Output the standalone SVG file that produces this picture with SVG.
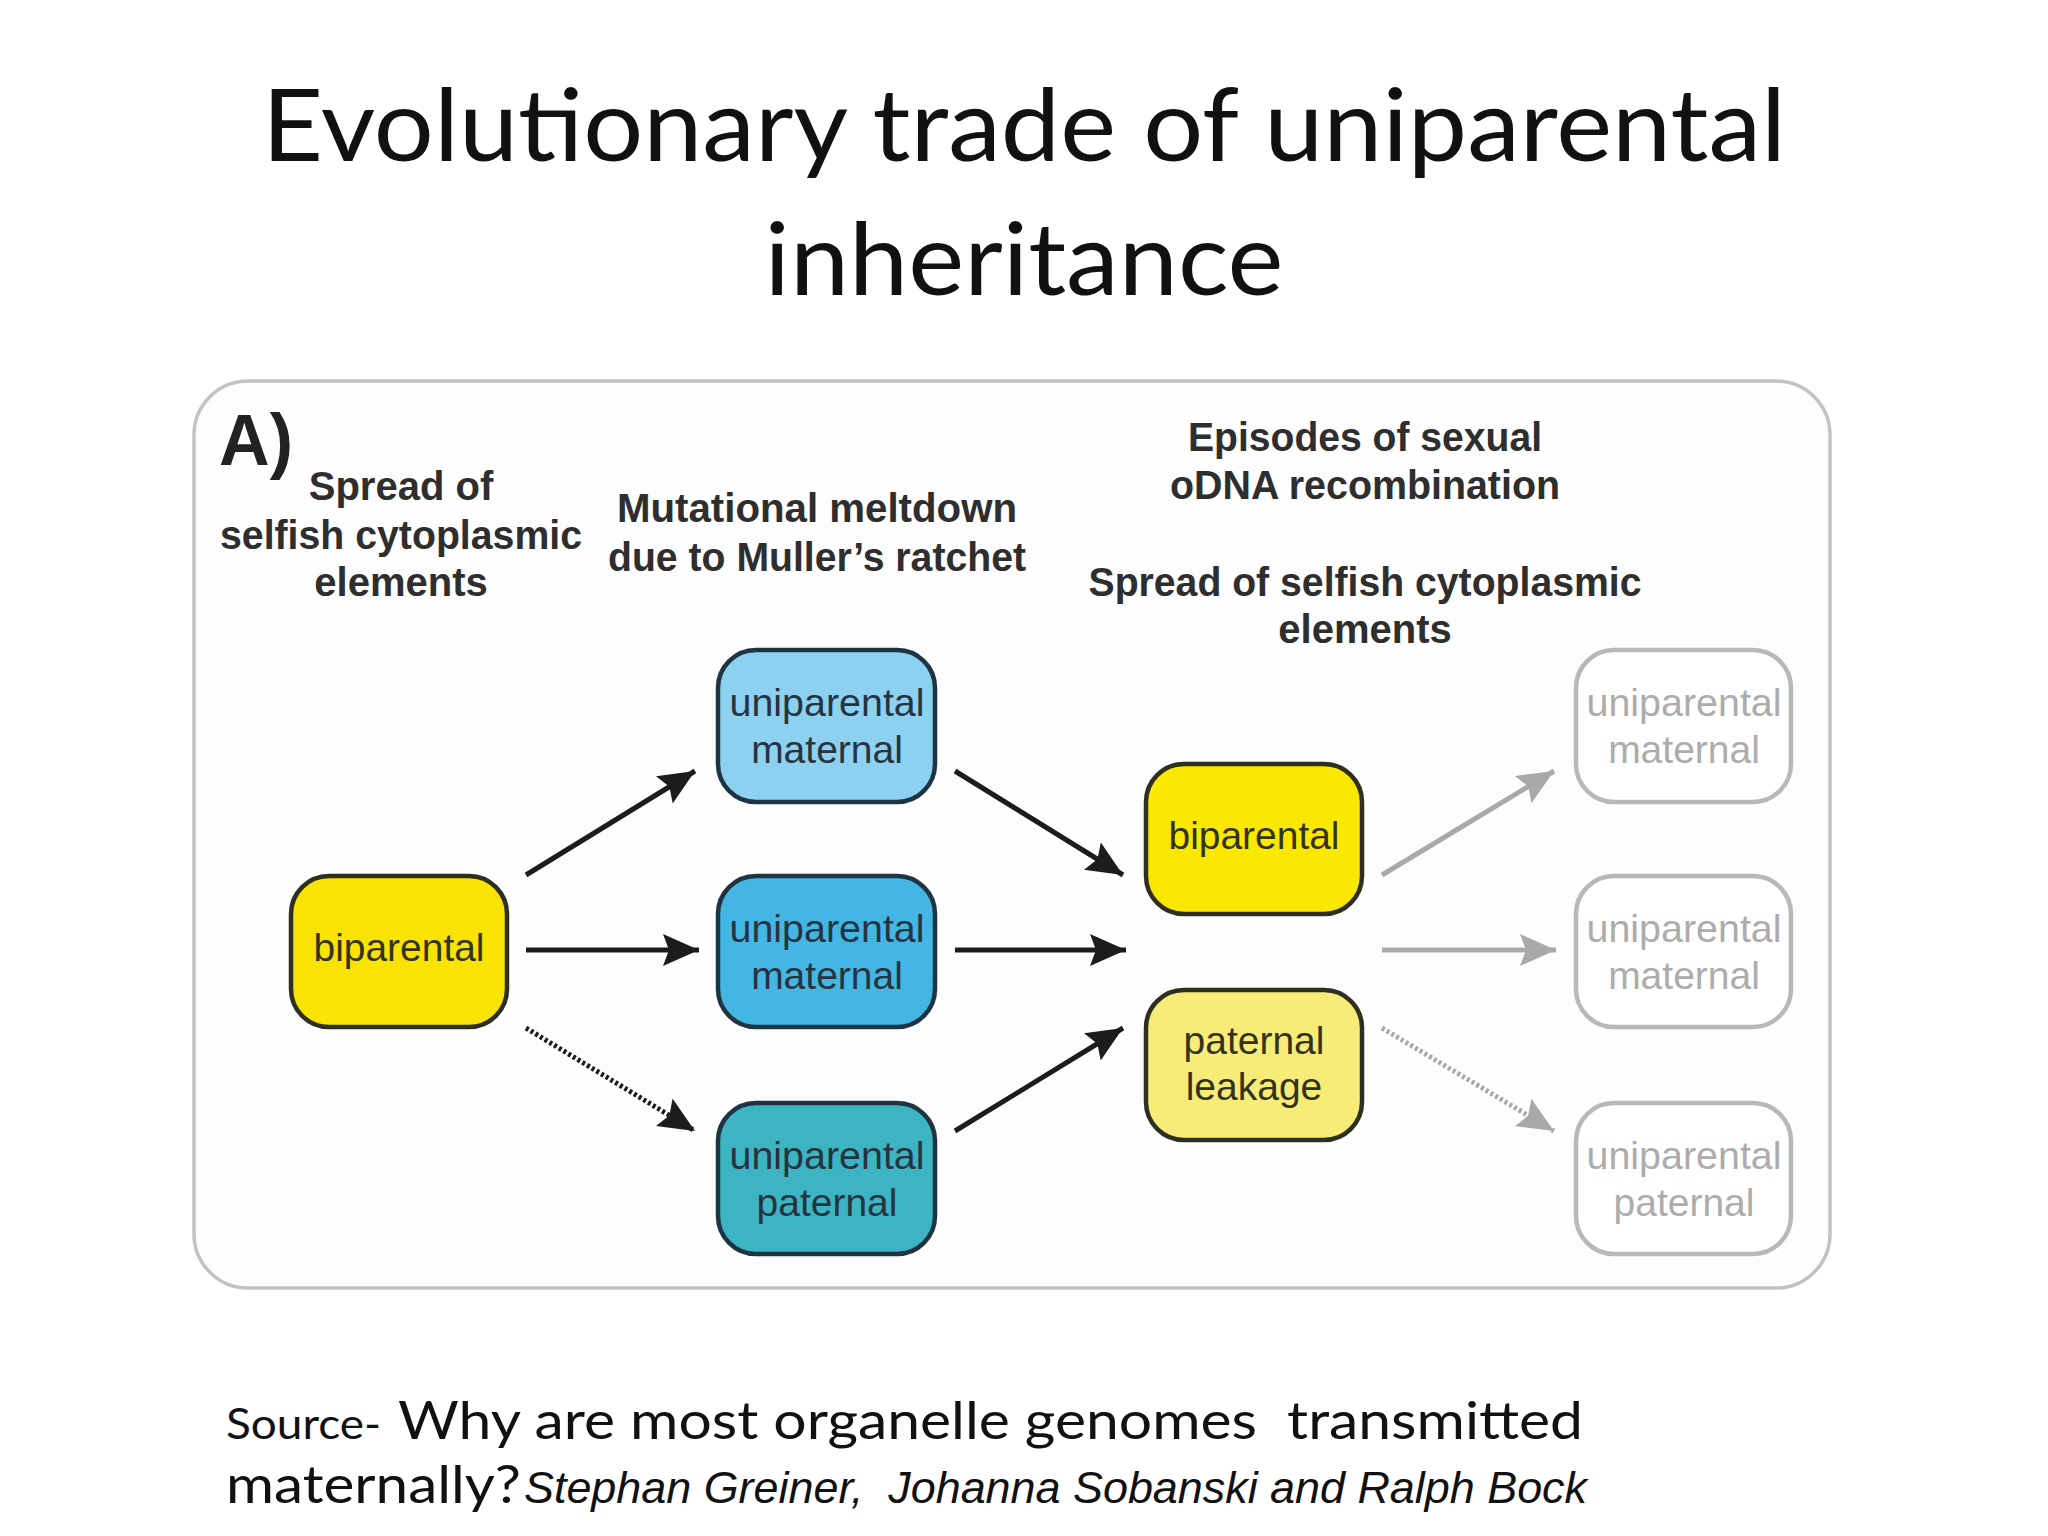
<svg xmlns="http://www.w3.org/2000/svg" width="2048" height="1536" viewBox="0 0 2048 1536">
<style>
.title{font-family:Lato,"Open Sans",sans-serif;font-size:100px;fill:#111;text-anchor:middle}
.hdr{font-family:"Liberation Sans",Arial,sans-serif;font-weight:bold;font-size:40px;fill:#2e2e2e;text-anchor:middle}
.lbl{font-family:"Liberation Sans",Arial,sans-serif;font-size:39px;text-anchor:middle}
.node{stroke-width:4.5}
.dark{fill:#263340}
.ghost{fill:#ffffff;stroke:#b8b8b8}
.ghostt{fill:#acacac}
.blk{stroke:#1c1c1c;stroke-width:5;fill:none}
.gry{stroke:#a9a9a9;stroke-width:5;fill:none}
.dot{stroke-dasharray:3 2.5}
.src{font-family:Lato,"Open Sans",sans-serif;fill:#111}
.ital{font-family:"Liberation Sans",Arial,sans-serif;font-style:italic;fill:#111}
</style>
<defs>
<marker id="ab" markerUnits="userSpaceOnUse" markerWidth="42" markerHeight="36" refX="36" refY="16" orient="auto">
<path d="M0,0 L36,16 L0,32 L6,16 z" fill="#1c1c1c"/>
</marker>
<marker id="ag" markerUnits="userSpaceOnUse" markerWidth="42" markerHeight="36" refX="36" refY="16" orient="auto">
<path d="M0,0 L36,16 L0,32 L6,16 z" fill="#a9a9a9"/>
</marker>
</defs>
<rect width="2048" height="1536" fill="#ffffff"/>
<g id="title">
<text class="title" x="1024" y="161" textLength="1524" lengthAdjust="spacingAndGlyphs">Evolutionary trade of uniparental</text>
<text class="title" x="1024" y="295" textLength="519" lengthAdjust="spacingAndGlyphs">inheritance</text>
</g>
<g id="panel">
<rect x="194" y="381" width="1636" height="907" rx="54" fill="#fdfdfd" stroke="#c2c2c2" stroke-width="3.5"/>
<text x="219" y="465" font-family="Liberation Sans,Arial,sans-serif" font-weight="bold" font-size="72" fill="#222" textLength="74" lengthAdjust="spacingAndGlyphs">A)</text>
</g>
<g id="headers">
<text class="hdr" x="401" y="500">Spread of</text>
<text class="hdr" x="401" y="549" textLength="362" lengthAdjust="spacingAndGlyphs">selfish cytoplasmic</text>
<text class="hdr" x="401" y="596">elements</text>
<text class="hdr" x="817" y="522" textLength="400" lengthAdjust="spacingAndGlyphs">Mutational meltdown</text>
<text class="hdr" x="817" y="571" textLength="418" lengthAdjust="spacingAndGlyphs">due to Muller’s ratchet</text>
<text class="hdr" x="1365" y="451" textLength="354" lengthAdjust="spacingAndGlyphs">Episodes of sexual</text>
<text class="hdr" x="1365" y="499" textLength="390" lengthAdjust="spacingAndGlyphs">oDNA recombination</text>
<text class="hdr" x="1365" y="596" textLength="553" lengthAdjust="spacingAndGlyphs">Spread of selfish cytoplasmic</text>
<text class="hdr" x="1365" y="643">elements</text>
</g>
<g id="connectors">
<line class="blk" x1="526" y1="875" x2="695" y2="771" marker-end="url(#ab)"/>
<line class="blk" x1="526" y1="950" x2="699" y2="950" marker-end="url(#ab)"/>
<line class="blk dot" x1="526" y1="1028" x2="695" y2="1131" marker-end="url(#ab)"/>
<line class="blk" x1="955" y1="771" x2="1123" y2="875" marker-end="url(#ab)"/>
<line class="blk" x1="955" y1="950" x2="1126" y2="950" marker-end="url(#ab)"/>
<line class="blk" x1="955" y1="1131" x2="1123" y2="1028" marker-end="url(#ab)"/>
<line class="gry" x1="1382" y1="875" x2="1554" y2="771" marker-end="url(#ag)"/>
<line class="gry" x1="1382" y1="950" x2="1556" y2="950" marker-end="url(#ag)"/>
<line class="gry dot" x1="1382" y1="1028" x2="1554" y2="1131" marker-end="url(#ag)"/>
</g>
<g id="n-biparental-left">
<rect class="node" x="291" y="876" width="216" height="151" rx="38" fill="#f9e304" stroke="#2f2f1f"/>
<text class="lbl" x="399" y="961" fill="#33331c" textLength="171" lengthAdjust="spacingAndGlyphs">biparental</text>
</g>
<g id="n-uni-maternal-top">
<rect class="node" x="718" y="650" width="217" height="152" rx="38" fill="#8dd1f1" stroke="#1f3442"/>
<text class="lbl dark" x="827" y="716" textLength="195" lengthAdjust="spacingAndGlyphs">uniparental</text>
<text class="lbl dark" x="827" y="763">maternal</text>
</g>
<g id="n-uni-maternal-mid">
<rect class="node" x="718" y="876" width="217" height="151" rx="38" fill="#44b6e4" stroke="#1f3442"/>
<text class="lbl dark" x="827" y="942" textLength="195" lengthAdjust="spacingAndGlyphs">uniparental</text>
<text class="lbl dark" x="827" y="989">maternal</text>
</g>
<g id="n-uni-paternal">
<rect class="node" x="718" y="1103" width="217" height="151" rx="38" fill="#3db4c2" stroke="#1f3442"/>
<text class="lbl dark" x="827" y="1169" textLength="195" lengthAdjust="spacingAndGlyphs">uniparental</text>
<text class="lbl dark" x="827" y="1216">paternal</text>
</g>
<g id="n-biparental-right">
<rect class="node" x="1146" y="764" width="216" height="150" rx="38" fill="#fbe802" stroke="#2f2f1f"/>
<text class="lbl" x="1254" y="849" fill="#33331c" textLength="171" lengthAdjust="spacingAndGlyphs">biparental</text>
</g>
<g id="n-paternal-leakage">
<rect class="node" x="1146" y="990" width="216" height="150" rx="38" fill="#f8ec79" stroke="#2f2f1f"/>
<text class="lbl" x="1254" y="1054" fill="#33331c">paternal</text>
<text class="lbl" x="1254" y="1100" fill="#33331c">leakage</text>
</g>
<g id="n-ghost-maternal-top">
<rect class="node ghost" x="1576" y="650" width="215" height="152" rx="38"/>
<text class="lbl ghostt" x="1684" y="716" textLength="195" lengthAdjust="spacingAndGlyphs">uniparental</text>
<text class="lbl ghostt" x="1684" y="763">maternal</text>
</g>
<g id="n-ghost-maternal-mid">
<rect class="node ghost" x="1576" y="876" width="215" height="151" rx="38"/>
<text class="lbl ghostt" x="1684" y="942" textLength="195" lengthAdjust="spacingAndGlyphs">uniparental</text>
<text class="lbl ghostt" x="1684" y="989">maternal</text>
</g>
<g id="n-ghost-paternal">
<rect class="node ghost" x="1576" y="1103" width="215" height="151" rx="38"/>
<text class="lbl ghostt" x="1684" y="1169" textLength="195" lengthAdjust="spacingAndGlyphs">uniparental</text>
<text class="lbl ghostt" x="1684" y="1216">paternal</text>
</g>
<g id="source">
<text class="src" x="226" y="1439" font-size="43" textLength="155" lengthAdjust="spacingAndGlyphs">Source-</text>
<text class="src" x="398" y="1439" font-size="53" textLength="1185" lengthAdjust="spacingAndGlyphs" xml:space="preserve">Why are most organelle genomes  transmitted</text>
<text class="src" x="226" y="1503" font-size="53" textLength="295" lengthAdjust="spacingAndGlyphs">maternally?</text>
<text class="ital" x="524" y="1503" font-size="44" textLength="1063" lengthAdjust="spacingAndGlyphs" xml:space="preserve">Stephan Greiner,  Johanna Sobanski and Ralph Bock</text>
</g>
</svg>
